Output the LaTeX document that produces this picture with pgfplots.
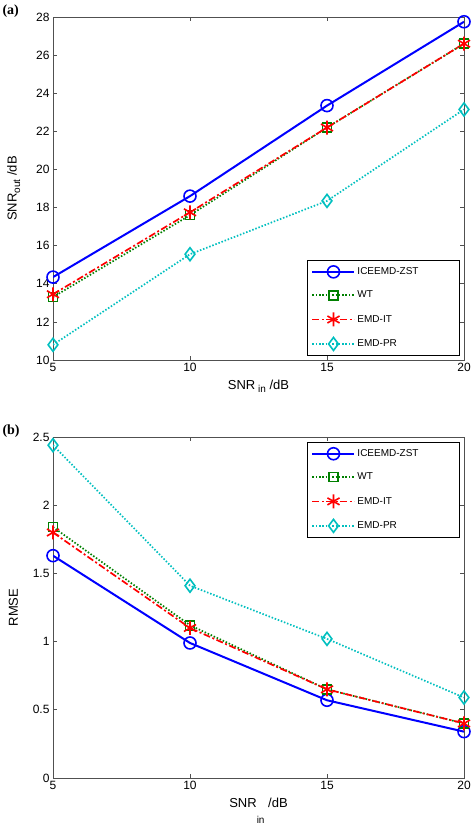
\documentclass[border=0pt]{standalone}
\usepackage{pgfplots}
\pgfplotsset{compat=1.18}
\usepackage{fontspec}
\setmainfont{Liberation Sans}
\newfontfamily\serifbold{Liberation Serif}

\definecolor{mblue}{RGB}{0,0,255}
\definecolor{mgreen}{RGB}{0,128,0}
\definecolor{mred}{RGB}{255,0,0}
\definecolor{mcyan}{RGB}{0,191,191}
\definecolor{axgray}{RGB}{80,80,80}

\pgfplotsset{
  common/.style={
    scale only axis,
    width=411pt,
    xmin=5, xmax=20,
    xtick={5,10,15,20},
    tick align=inside,
    major tick length=4pt,
    axis line style={axgray, line width=0.9pt},
    every tick/.style={axgray, line width=0.7pt},
    tick label style={font=\fontsize{12}{14}\selectfont, black},
    label style={font=\fontsize{13}{15}\selectfont},
    /pgf/number format/assume math mode=true,
    legend cell align=left,
    legend style={font=\fontsize{10}{12}\selectfont, draw=black, line width=0.8pt,
      row sep=11pt, inner xsep=4pt, inner ysep=5pt},
    legend image code/.code={
      \draw[mark repeat=2,mark phase=2]
        plot coordinates {(0pt,0pt) (21pt,0pt) (42pt,0pt)};
    },
  },
  sICE/.style={mblue, line width=2pt, mark=o, mark size=6pt, mark options={solid, line width=1.6pt}},
  sWT/.style={mgreen, line width=1.7pt, dash pattern=on 1.5pt off 1.8pt, mark=square, mark size=4.5pt, mark options={solid, line width=1.6pt}},
  sIT/.style={mred, line width=1.7pt, dash pattern=on 7pt off 2.5pt on 2pt off 2.5pt, mark=asterisk, mark size=7pt, mark options={solid, line width=1.6pt}},
  sPR/.style={mcyan, line width=1.7pt, dash pattern=on 1.5pt off 1.8pt, mark=diamond, mark size=6.5pt, mark options={solid, line width=1.6pt}},
}

\begin{document}
\begin{tikzpicture}
\useasboundingbox (0pt,0pt) rectangle (474pt,-827pt);

% panel (a)
\begin{axis}[common,
  at={(53pt,-360pt)}, anchor=south west,
  height=343pt,
  ymin=10, ymax=28, ytick={10,12,...,28},
  xlabel={SNR\raisebox{-0.5ex}{\fontsize{10}{11}\selectfont\ in} /dB},
  ylabel={SNR\raisebox{-0.5ex}{\fontsize{10}{11}\selectfont out} /dB},
  xlabel style={yshift=-1pt},
  ylabel style={yshift=9pt},
  legend style={at={(0.99,0.012)}, anchor=south east},
]
\addplot[sICE] coordinates {(5,14.35) (10,18.6) (15,23.35) (20,27.75)};
\addplot[sWT]  coordinates {(5,13.3) (10,17.6) (15,22.2) (20,26.6)};
\addplot[sIT]  coordinates {(5,13.45) (10,17.75) (15,22.2) (20,26.6)};
\addplot[sPR]  coordinates {(5,10.8) (10,15.55) (15,18.35) (20,23.15)};
\legend{\makebox[96pt][l]{ICEEMD-ZST}, WT, EMD-IT, EMD-PR}
\end{axis}
\node[font=\serifbold\bfseries\fontsize{14}{15}\selectfont, anchor=west] at (-1pt,-11pt) {(a)};

% panel (b)
\begin{axis}[common,
  at={(53pt,-778pt)}, anchor=south west,
  height=341pt,
  ymin=0, ymax=2.5, ytick={0,0.5,...,2.5},
  xlabel={SNR\raisebox{-2.4ex}{\fontsize{10}{11}\selectfont in} /dB},
  ylabel={RMSE},
  xlabel style={yshift=-1pt},
  ylabel style={yshift=8pt},
  legend style={at={(0.99,0.985)}, anchor=north east},
]
\addplot[sICE] coordinates {(5,1.63) (10,0.99) (15,0.57) (20,0.34)};
\addplot[sWT]  coordinates {(5,1.84) (10,1.12) (15,0.65) (20,0.40)};
\addplot[sIT]  coordinates {(5,1.80) (10,1.10) (15,0.65) (20,0.40)};
\addplot[sPR]  coordinates {(5,2.44) (10,1.41) (15,1.02) (20,0.59)};
\legend{\makebox[96pt][l]{ICEEMD-ZST}, WT, EMD-IT, EMD-PR}
\end{axis}
\node[font=\serifbold\bfseries\fontsize{14}{15}\selectfont, anchor=west] at (-1pt,-431pt) {(b)};
\end{tikzpicture}
\end{document}
